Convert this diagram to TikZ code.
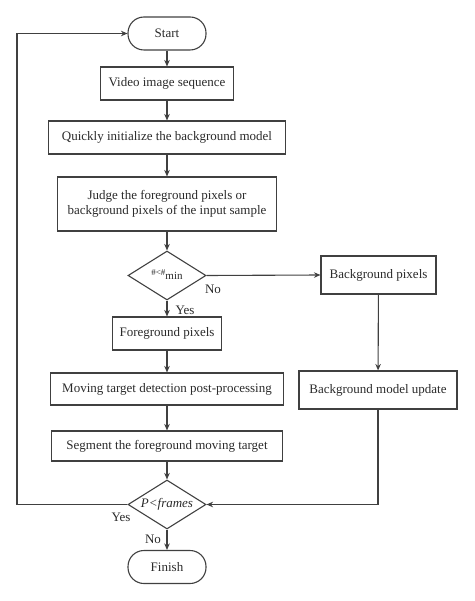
\documentclass[tikz,border=0pt]{standalone}
\usepackage{fontspec}
\setmainfont{Liberation Serif}
\usetikzlibrary{shapes.geometric,arrows.meta}
\definecolor{ln}{HTML}{404040}
\definecolor{tx}{HTML}{2A2A2A}
\begin{document}
\begin{tikzpicture}[x=1pt,y=-1pt,
  every node/.style={text=tx,font=\fontsize{13}{15.5}\selectfont},
  box/.style={draw=ln,line width=1.1pt,rectangle,inner sep=0pt,align=center},
  term/.style={draw=ln,line width=1.1pt,rectangle,rounded corners=16pt,minimum width=78pt,minimum height=33pt,inner sep=0pt},
  dec/.style={draw=ln,line width=1.1pt,diamond,aspect=1.6,minimum width=78pt,minimum height=49pt,inner sep=0pt},
  arr/.style={draw=ln,line width=1.1pt,-{Stealth[length=6.5pt,width=5.5pt]}},
  lab/.style={font=\fontsize{13}{15.5}\selectfont}]
\useasboundingbox (0,0) rectangle (474,601);
\node[term] (start) at (167,33.5) {Start};
\node[box,minimum width=133pt,minimum height=33pt] (video) at (167,83.5) {Video image sequence};
\node[box,minimum width=237pt,minimum height=33pt] (quick) at (167,137.5) {Quickly initialize the background model};
\node[box,minimum width=219pt,minimum height=54pt] (judge) at (167,204) {Judge the foreground pixels or\\background pixels of the input sample};
\node[dec] (d1) at (167,275.5) {};
\node at (167,275) {\raisebox{4pt}{\fontsize{9}{10}\selectfont\#<\#}{\fontsize{11}{12}\selectfont min}};
\node[box,minimum width=115pt,minimum height=38pt] (bgp) at (378.5,275) {Background pixels};
\node[box,minimum width=109pt,minimum height=33pt] (fgp) at (167,333.5) {Foreground pixels};
\node[box,minimum width=233pt,minimum height=32pt] (move) at (167,389) {Moving target detection post-processing};
\node[box,minimum width=158pt,minimum height=38pt] (bgu) at (378,390) {Background model update};
\node[box,minimum width=231pt,minimum height=30pt] (seg) at (167,446) {Segment the foreground moving target};
\node[dec] (d2) at (167,504.5) {\itshape P<frames};
\node[term] (fin) at (167,567) {Finish};
\coordinate (lc) at (17,504.5);
\coordinate (rc) at (378,504.5);
\draw[arr] (start) -- (video);
\draw[arr] (video) -- (quick);
\draw[arr] (quick) -- (judge);
\draw[arr] (judge) -- (d1);
\draw[arr] (d1.east) -- (bgp.west);
\draw[arr] (d1.south) -- (fgp.north);
\draw[arr] (fgp) -- (move);
\draw[arr] (move) -- (seg);
\draw[arr] (seg) -- (d2);
\draw[arr] (bgp) -- (bgu);
\draw[arr] (bgu.south) -- (rc) -- (d2.east);
\draw[arr] (d2.west) -- (lc) |- (start.west);
\draw[arr] (d2.south) -- (fin.north);
\node[lab] at (213,289) {No};
\node[lab] at (185,310) {Yes};
\node[lab] at (121,517) {Yes};
\node[lab] at (153,539) {No};
\end{tikzpicture}
\end{document}
